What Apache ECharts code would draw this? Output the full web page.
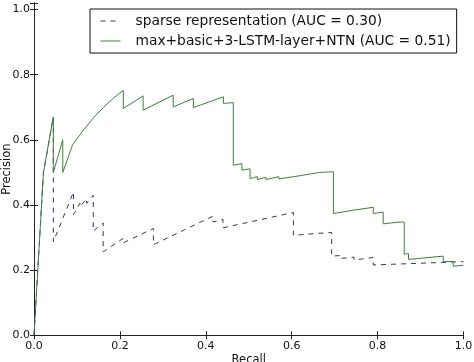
<!DOCTYPE html>
<html>
<head>
<meta charset="utf-8">
<script src="https://cdn.jsdelivr.net/npm/echarts@6/dist/echarts.min.js"></script>
<style>
html,body{margin:0;padding:0;background:#fff;}
#chart{width:474px;height:362px;}
</style>
</head>
<body>
<div id="chart"></div>
<script>
const seriesNames = ['sparse representation (AUC = 0.30)', 'max+basic+3-LSTM-layer+NTN (AUC = 0.51)'];
const xTicks = [0, 0.2, 0.4, 0.6, 0.8, 1.0];
const yTicks = [0, 0.2, 0.4, 0.6, 0.8, 1.0];

const recallSparse = [0, 0.022, 0.045, 0.045, 0.092, 0.092, 0.107, 0.107, 0.123, 0.123, 0.138, 0.138, 0.161, 0.161, 0.208, 0.208, 0.278, 0.278, 0.417, 0.417, 0.44, 0.44, 0.604, 0.604, 0.693, 0.693, 0.715, 0.715, 0.745, 0.745, 0.79, 0.79, 1.0];
const precisionSparse = [0, 0.50, 0.67, 0.287, 0.44, 0.37, 0.405, 0.395, 0.42, 0.405, 0.43, 0.32, 0.345, 0.256, 0.298, 0.284, 0.328, 0.278, 0.366, 0.348, 0.356, 0.33, 0.377, 0.307, 0.316, 0.243, 0.245, 0.236, 0.24, 0.231, 0.239, 0.216, 0.226];

const recallNTN = [0, 0.022, 0.045, 0.045, 0.067, 0.067, 0.09, 0.115, 0.14, 0.162, 0.185, 0.208, 0.208, 0.254, 0.254, 0.324, 0.324, 0.371, 0.371, 0.441, 0.441, 0.464, 0.464, 0.484, 0.484, 0.503, 0.503, 0.52, 0.52, 0.54, 0.54, 0.57, 0.57, 0.62, 0.665, 0.665, 0.697, 0.697, 0.744, 0.744, 0.79, 0.79, 0.813, 0.813, 0.845, 0.845, 0.862, 0.862, 0.872, 0.872, 0.953, 0.953, 0.976, 0.976, 1.0];
const precisionNTN = [0, 0.50, 0.67, 0.50, 0.60, 0.50, 0.585, 0.63, 0.67, 0.70, 0.728, 0.752, 0.696, 0.735, 0.691, 0.737, 0.701, 0.727, 0.699, 0.732, 0.712, 0.714, 0.522, 0.527, 0.507, 0.511, 0.481, 0.487, 0.478, 0.485, 0.478, 0.487, 0.48, 0.49, 0.50, 0.494, 0.502, 0.374, 0.384, 0.378, 0.393, 0.374, 0.378, 0.342, 0.347, 0.343, 0.348, 0.249, 0.251, 0.233, 0.243, 0.226, 0.227, 0.212, 0.215];

const zip = (xs, ys) => xs.map((x, i) => [x, ys[i]]);
const font = 'DejaVu Sans';
const axisColor = '#222';
const isTick = (v, ticks) => ticks.some(t => Math.abs(t - v) < 1e-6);

const chart = echarts.init(document.getElementById('chart'), null, {renderer: 'canvas'});
const baseX = {
  type: 'value', min: 0, max: 1, interval: 0.2,
  axisLine: {show: true, lineStyle: {color: axisColor, width: 1}},
  axisTick: {show: true, inside: true, length: 4, lineStyle: {color: axisColor}},
  splitLine: {show: false}
};
const baseY = {
  type: 'value', min: 0, max: 1.02, interval: 0.2,
  axisLine: {show: true, lineStyle: {color: axisColor, width: 1}},
  axisTick: {show: true, inside: true, length: 4, lineStyle: {color: axisColor}},
  splitLine: {show: false}
};
chart.setOption({
  animation: false,
  backgroundColor: '#fff',
  grid: {left: 34, right: 10.5, top: 3, bottom: 26.7, containLabel: false, outerBoundsMode: 'none'},
  legend: {
    orient: 'vertical', left: 90, top: 9,
    data: seriesNames,
    itemWidth: 20, itemHeight: 14, itemGap: 6,
    padding: [5, 6, 5, 10],
    borderColor: '#111', borderWidth: 1, backgroundColor: '#fff',
    itemStyle: {opacity: 0, borderWidth: 0},
    lineStyle: {width: 1},
    textStyle: {fontFamily: font, fontSize: 13.8, color: '#111', padding: [0, 0, 0, 10]}
  },
  xAxis: [
    Object.assign({}, baseX, {
      position: 'bottom',
      name: 'Recall', nameLocation: 'middle', nameGap: 19, nameMoveOverlap: false,
      nameTextStyle: {fontFamily: font, fontSize: 11.5, color: '#111'},
      axisLabel: {fontFamily: font, fontSize: 11, color: '#111', margin: 5,
        formatter: v => isTick(v, xTicks) ? v.toFixed(1) : ''}
    }),
    Object.assign({}, baseX, {position: 'top', axisLabel: {show: false}})
  ],
  yAxis: [
    Object.assign({}, baseY, {
      position: 'left',
      name: 'Precision', nameLocation: 'middle', nameGap: 21, nameMoveOverlap: false,
      nameTextStyle: {fontFamily: font, fontSize: 11.5, color: '#111'},
      axisLabel: {fontFamily: font, fontSize: 11, color: '#111', margin: 4,
        formatter: v => isTick(v, yTicks) ? v.toFixed(1) : ''}
    }),
    Object.assign({}, baseY, {position: 'right', axisLabel: {show: false}})
  ],
  series: [
    {
      name: seriesNames[0], type: 'line', xAxisIndex: 0, yAxisIndex: 0,
      data: zip(recallSparse, precisionSparse),
      symbol: 'none', showSymbol: false,
      lineStyle: {color: '#34346a', width: 1, type: [5, 5]},
      itemStyle: {color: '#34346a'}
    },
    {
      name: seriesNames[1], type: 'line', xAxisIndex: 0, yAxisIndex: 0,
      data: zip(recallNTN, precisionNTN),
      symbol: 'none', showSymbol: false,
      lineStyle: {color: '#3f7f3f', width: 1},
      itemStyle: {color: '#3f7f3f'}
    }
  ]
});
</script>
</body>
</html>
